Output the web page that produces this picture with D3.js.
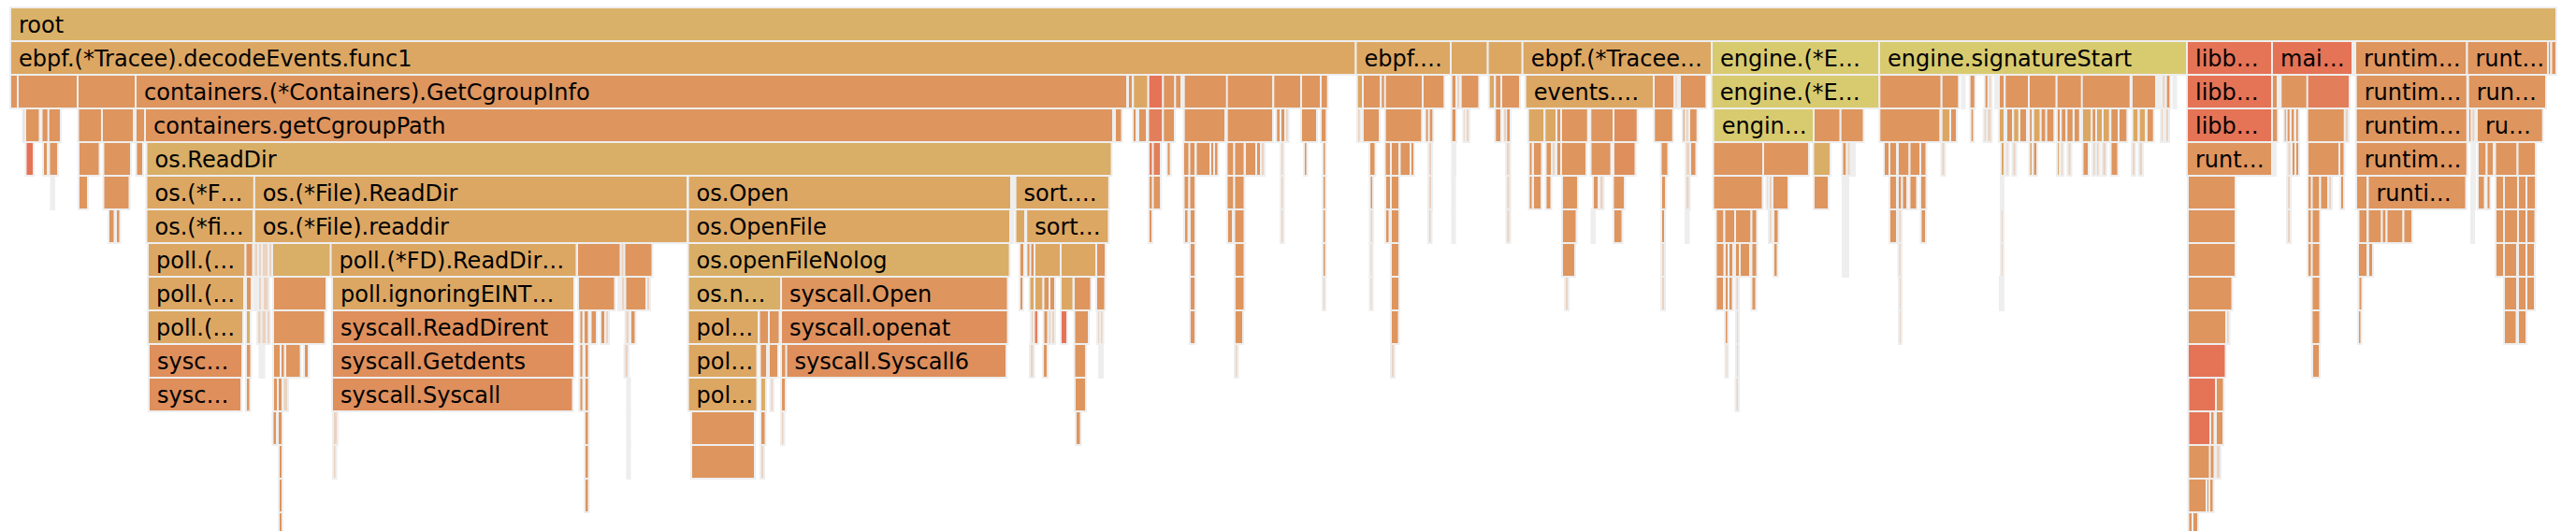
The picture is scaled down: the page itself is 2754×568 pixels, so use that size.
<!DOCTYPE html>
<html><head><meta charset="utf-8">
<script src="https://cdn.jsdelivr.net/npm/d3@7"></script>
<style>html,body{margin:0;padding:0;background:#fff;overflow:hidden}</style>
</head><body><svg id="c"></svg>
<script>
// Each frame: [firstSample, lastSample, label, tone]. Tone defaults to "o".
const totalSamples = 2722;
const depth0 = [[1,2721,"root","a"]];
const depth1 = [[1,1437.5,"ebpf.(*Tracee).decodeEvents.func1","t"],[1439.5,1539,"ebpf.…","t"],[1541,1578.6,"","t"],[1580.6,1615.7,"","t"],[1617.7,1818,"ebpf.(*Tracee…","t"],[1820,1997,"engine.(*E…","g"],[1999,2326,"engine.signatureStart","g"],[2328,2417,"libb…","r"],[2419,2503,"mai…","r"],[2505,2505.5,"","s"],[2508,2625.5,"runtim…"],[2627.5,2712,"runt…"],[2714,2715.5],[2717.5,2721]];
const depth2 = [[1,8.5],[9,72],[73,133.6],[135,1193,"containers.(*Containers).GetCgroupInfo"],[1196,1199],[1201.3,1215.7,"","t"],[1217.7,1231.7,"","r"],[1233.3,1244.7],[1246.3,1251.3],[1253,1254,"","s"],[1255.7,1300],[1301.7,1349.3],[1351.3,1379.3],[1381,1400],[1402,1407.7],[1440.7,1445.3,"","t"],[1447,1464.3],[1466.3,1469],[1470.7,1509],[1511,1532.3],[1541.7,1545.3],[1547,1549,"","p"],[1551.7,1569.4],[1581.7,1586.3,"","t"],[1588.3,1593],[1595,1613],[1620.7,1756.3,"events.…","t"],[1758,1778.3],[1780.3,1781.5,"","p"],[1784,1785,"","s"],[1786,1812.3],[1819.7,1997.5,"engine.(*E…","g"],[1999.3,2063.7],[2065.7,2082.3],[2087.5,2088.5,"","s"],[2095.7,2099.7],[2111.7,2114],[2115.7,2117.3,"","p"],[2123,2124.5,"","s"],[2127,2131.3],[2133.3,2157.3],[2159,2186.7],[2188.7,2214],[2215.7,2265.7],[2269,2293],[2297,2297.7,"","s"],[2301.3,2303.3,"","p"],[2305.7,2308.3],[2313.5,2314.5,"","s"],[2328,2417,"libb…","r"],[2419,2423.3],[2425,2425.5,"","s"],[2428.3,2455],[2456.7,2500,"","l"],[2508.7,2625.7,"runtim…"],[2628.7,2710,"run…"]];
const depth3 = [[14.4,16.7,"","p"],[17,30.5],[34.5,40.5],[41.7,53],[73.5,97.5],[99,131],[135,143],[145,1178.7,"containers.getCgroupPath"],[1180,1180.5,"","p"],[1182,1187.5],[1201,1203],[1207,1214],[1217.5,1231.5,"","l"],[1233.3,1244],[1255.7,1298],[1301.7,1349],[1354.3,1357.3],[1359,1362.3],[1364,1365.7,"","p"],[1381,1396],[1402,1406.3],[1441,1442.7,"","p"],[1447,1463],[1470.7,1508.3],[1513.7,1515.7],[1517.7,1520.3],[1541.7,1545],[1554.3,1555.7,"","p"],[1557,1559,"","p"],[1588.3,1593],[1597.7,1599],[1600.3,1603],[1623.7,1639.3,"","t"],[1641.3,1652,"","t"],[1654,1657.3],[1659,1685.7],[1690.3,1713.3],[1715,1738.7,"","d"],[1758.3,1776.7],[1788.7,1790.3],[1791.7,1793.7,"","p"],[1796,1802.7],[1821.7,1927,"engin…","g"],[1929,1955.7],[1957.7,1980.5],[1999.3,2062.3],[2065.7,2073,"","t"],[2075,2080],[2096.7,2098.3],[2110.7,2112.3,"","p"],[2114.3,2117.3,"","p"],[2127,2131,"","t"],[2135,2140],[2142.3,2146.7,"","t"],[2149,2155],[2159.3,2161],[2163.7,2169.7,"","t"],[2171.7,2175.7],[2177.7,2184.3],[2189,2191],[2193.3,2197.3],[2199.3,2204.7],[2207,2211.7],[2216,2224.3,"","t"],[2226.3,2229],[2231,2236,"","t"],[2238,2243.7,"","t"],[2246.3,2253],[2255,2262.3],[2269.7,2274.3,"","t"],[2276.7,2282,"","t"],[2285,2290.7],[2300,2301,"","p"],[2305,2307,"","p"],[2328,2417,"libb…","r"],[2419,2423.3],[2431.7,2433.3],[2434.7,2436.7],[2439,2441.3],[2444,2445.7],[2456.7,2495],[2496.7,2499,"","p"],[2508.7,2625.7,"runtim…"],[2629,2630.7],[2632.3,2634.3,"","p"],[2638,2706.7,"ru…"]];
const depth4 = [[17.5,24,"","r"],[36,39],[42.5,50],[74,94.5],[100.5,128],[135.5,141],[146.5,1176.5,"os.ReadDir","y"],[1218,1221,"","l"],[1222.5,1229,"","l"],[1237.5,1239.5],[1255,1260],[1261.5,1266],[1268.5,1282.5],[1284,1286.5],[1288,1290.5],[1301.5,1307.5],[1309.5,1318.5],[1321,1331.5],[1333,1336.5],[1338,1340,"","p"],[1359,1360.5,"","p"],[1384,1385.5],[1404,1405.5],[1454,1458.5],[1470.5,1475],[1477,1484],[1486.5,1496],[1498,1500],[1517,1519,"","p"],[1542.5,1544,"","s"],[1600,1602.5,"","p"],[1624.5,1626.5],[1629,1636.5],[1642.5,1647.5],[1649,1651,"","p"],[1654,1657],[1659,1684],[1690.5,1710.5],[1715,1736.5,"","d"],[1765.5,1771.5],[1792,1795,"","p"],[1797,1801.5],[1821.5,1873.5],[1875,1922],[1928.5,1945,"","y"],[1959.5,1962.5],[1964.5,1966.5,"","p"],[1969,1971,"","s"],[2004,2008.5],[2010,2016],[2019,2029.5],[2031.5,2041],[2043,2047.5],[2065.5,2067.5,"","p"],[2129,2131,"","t"],[2134.5,2135.5,"","p"],[2141.5,2143.5,"","p"],[2159.5,2161,"","t"],[2163.5,2166],[2189,2190,"","t"],[2193,2194,"","p"],[2200.5,2202.5,"","p"],[2216.5,2221],[2227,2228.5,"","p"],[2231,2232.5,"","p"],[2237.5,2240,"","p"],[2246.5,2252.5],[2269,2271,"","p"],[2276.5,2279,"","p"],[2328,2417,"runt…"],[2419,2421,"","s"],[2435.5,2437.5,"","p"],[2440,2442],[2444,2446],[2457,2489],[2491,2494.5],[2508.7,2625.7,"runtim…"],[2632.5,2634,"","s"],[2639,2646.5],[2648.5,2654],[2657.5,2679.5],[2681.5,2699]];
const depth5 = [[44.5,46,"","s"],[74,82],[100.5,126.5],[146.5,260,"os.(*F…","t"],[261.8,723,"os.(*File).ReadDir","t"],[725.6,1069,"os.Open","t"],[1071.5,1072,"","s"],[1075.6,1173.8,"sort.…","t"],[1218,1221],[1222.5,1229],[1255.5,1259.5],[1261.5,1266],[1301.5,1307.5],[1309.5,1318.5],[1359,1360.5,"","p"],[1404,1405.5],[1454.5,1456],[1471,1475],[1477,1484],[1517,1519,"","p"],[1542.5,1543.5,"","s"],[1600.5,1602.5,"","p"],[1624.5,1626.5],[1629,1636],[1642.5,1646.5],[1660,1675],[1693,1697],[1700,1702.5,"","p"],[1714.5,1725],[1766,1769],[1792,1794.5,"","p"],[1821.5,1872.5],[1878.5,1879.5,"","p"],[1881,1883,"","p"],[1885,1900],[1929,1943],[1960,1961,"","s"],[1963,1964,"","s"],[2010,2016],[2019,2021.5],[2023.5,2027],[2031.5,2037.5],[2043,2047.5],[2129,2130,"","s"],[2329,2378],[2435,2437,"","p"],[2457,2460],[2461.5,2468.5],[2470.5,2478.5],[2479,2481,"","p"],[2492,2494],[2509,2519],[2521.5,2624.5,"runti…"],[2632,2634,"","s"],[2639,2644.5],[2648.5,2650.5],[2658,2665],[2667,2680],[2682,2689],[2691,2699]];
const depth6 = [[106,110.5],[114,116.5],[146.5,259,"os.(*fi…","t"],[261.8,723,"os.(*File).readdir","t"],[725.6,1068,"os.OpenFile","t"],[1070.5,1071,"","s"],[1075.6,1084,"","t"],[1087.2,1173.4,"sort…","t"],[1218,1220],[1256,1258.5],[1262,1266],[1302,1306],[1309.5,1318.5],[1359,1360.5,"","p"],[1404,1405.5],[1454.5,1456,"","p"],[1471,1473.5],[1477,1484],[1517,1518.5,"","p"],[1542.5,1543.5,"","s"],[1600.5,1602.5,"","p"],[1660,1673.5],[1691.5,1693,"","s"],[1715,1722.5],[1766,1768],[1792,1793.5,"","s"],[1824.5,1831.5],[1833.5,1843],[1845,1860.5],[1862.5,1866.5],[1881,1882.5,"","p"],[1886,1889.5],[1960,1961,"","s"],[1963,1964,"","s"],[2010,2016],[2019.5,2021,"","p"],[2043.5,2047],[2129,2130,"","p"],[2329,2378],[2435,2437,"","p"],[2457,2460],[2461.5,2468.5],[2511.5,2519],[2521.5,2534.5],[2536.5,2539.5],[2541.5,2557.5],[2559.5,2567],[2632,2633,"","s"],[2658,2665],[2667,2680],[2682,2689],[2691,2698.5]];
const depth7 = [[148,250.5,"poll.(…","t"],[252.5,258.5],[261.5,264,"","p"],[266,268,"","p"],[270,275,"","p"],[277,279,"","p"],[281,342,"","y"],[343.5,604.5,"poll.(*FD).ReadDir…","t"],[607,652],[653.5,656.5,"","p"],[657.5,685.5],[725.5,1067.5,"os.openFileNolog","y"],[1080,1083],[1087.5,1090],[1091.5,1094],[1096,1122,"","t"],[1124,1160.5,"","t"],[1162,1170],[1262,1266],[1310,1318.5],[1404,1405.5],[1454.5,1455.5,"","p"],[1477,1484],[1660,1672],[1766,1768,"","p"],[1824.5,1831.5],[1834,1836.5],[1838,1841],[1845,1848.5],[1850,1859],[1862.5,1866.5],[1886,1888.5],[1960,1961,"","s"],[1963,1964,"","s"],[2019.5,2021,"","p"],[2129,2130,"","p"],[2329,2378],[2457,2460],[2461.5,2468.5],[2511,2519],[2522,2525],[2658,2665],[2667,2679],[2682,2689],[2691,2698]];
const depth8 = [[148,249,"poll.(…","t"],[253,257],[261.5,264,"","s"],[266,268,"","p"],[271,275.5,"","p"],[282,337],[345,602,"poll.ignoringEINT…","t"],[608,645.5],[651,651.5,"","s"],[654,656.5,"","p"],[658.5,679],[681,683,"","p"],[725.6,823,"os.n…","y"],[825,1065.5,"syscall.Open"],[1080,1082],[1090.5,1094,"","t"],[1096,1103.5,"","t"],[1105.5,1111],[1112,1116],[1124,1135.5,"","t"],[1138,1154.5],[1162,1169.5],[1262,1266],[1310,1318.5],[1404,1405,"","p"],[1454.5,1455.5,"","p"],[1477,1484],[1663,1665,"","p"],[1766,1768,"","p"],[1824.5,1831],[1834,1836],[1838,1840.5],[1845.5,1847,"","p"],[1862.5,1865.5],[2020,2021,"","p"],[2128,2130,"","s"],[2329,2374.5],[2461.5,2468.5],[2511.5,2513.5],[2667,2679],[2682,2689],[2691,2698]];
const depth9 = [[148,248,"poll.(…","t"],[253,256,"","y"],[265,268,"","p"],[269.5,274,"","p"],[275,277,"","p"],[282,335.5],[345,602,"syscall.ReadDirent","d"],[609.5,611.5],[614,617.5],[621.5,626],[632,636.5],[637,639,"","p"],[658.5,661,"","p"],[664,667.5],[725.6,799,"pol…","t"],[801.5,810.5],[812,821.5],[825,1065.5,"syscall.openat","d"],[1092,1093.5,"","p"],[1095.5,1098,"","l"],[1105.5,1109],[1110.5,1112.5,"","p"],[1114,1116,"","p"],[1124,1129,"","r"],[1138.5,1152],[1163,1165,"","p"],[1166,1167.5,"","p"],[1262,1266],[1310,1317],[1477,1483.5],[1834,1835.5],[1846,1847,"","p"],[2020,2021,"","p"],[2329,2368],[2370,2371.5,"","p"],[2461.5,2468.5],[2511,2512.5],[2667,2678.5],[2682,2689]];
const depth10 = [[149,247,"sysc…","d"],[253,256.5],[267.5,270.5,"","s"],[282,288],[290,292.5],[295,309.5],[315,318],[345,602,"syscall.Getdents","d"],[609.5,611.5],[615,617.5],[657.5,660,"","p"],[725.6,797.5,"pol…","t"],[802.5,808],[812,820],[825,829],[830.5,1064,"syscall.Syscall6","d"],[1091,1093.5,"","p"],[1105,1108],[1138.5,1149],[1165,1167,"","s"],[1310,1311.5,"","p"],[1477,1479,"","p"],[1834.5,1835.5,"","p"],[1846,1847,"","p"],[2329,2367.5,"","r"],[2462,2468]];
const depth11 = [[149,246,"sysc…","d"],[253,255.5],[282,285],[287,290],[292.5,296,"","p"],[345,600.5,"syscall.Syscall","d"],[609.5,611.5],[615,617.5],[660.5,661.5,"","s"],[725.6,797.5,"pol…","t"],[803,807,"","y"],[813.5,815,"","p"],[825,828],[1139,1149],[1845.5,1847,"","p"],[2329.5,2357,"","r"],[2359,2365.5]];
const depth12 = [[281.5,284],[287,290],[346,349,"","p"],[615,617.5],[660.5,661.5,"","s"],[729,795],[803,806.5],[825,826.5,"","p"],[1140,1143.5],[2329.5,2351,"","r"],[2353,2355.5],[2359,2365]];
const depth13 = [[288,290],[346,347.5,"","p"],[615,617.5],[660.5,661.5,"","s"],[729,795],[803,805,"","p"],[2329.5,2351],[2352.5,2355.5],[2359,2362,"","p"]];
const depth14 = [[288,290],[615,617.5],[2329.5,2347.5],[2349,2351],[2352,2354.5]];
const depth15 = [[288,290],[2329.5,2332],[2334,2338]];
const depths = [depth0,depth1,depth2,depth3,depth4,depth5,depth6,depth7,depth8,depth9,depth10,depth11,depth12,depth13,depth14,depth15];
const toneKeys = ["a","t","y","g","o","d","l","r","p","s"];
const toneColors = ["#d9b168","#dca763","#d9ae66","#d8ca6f","#de955e","#de8f5c","#e27f5a","#e57356","#ebd3c0","#eeeeee"];

const W = 2754, H = 568;
const x = d3.scaleLinear().domain([0,totalSamples]).range([11,2733]);
const y = d3.scaleLinear().domain([0,1]).range([8,44]);
const tone = d3.scaleOrdinal(toneKeys,toneColors);
const svg = d3.select("#c").attr("width",W).attr("height",H).style("display","block");
const frames = depths.flatMap((row,depth)=>row.map(([s,e,name,t])=>({s,e,name:name||"",t:t||"o",depth})));
const g = svg.selectAll("g.frame").data(frames).join("g").attr("class","frame");
g.append("rect")
  .attr("x",d=>x(d.s)-1)
  .attr("y",d=>y(d.depth))
  .attr("width",d=>x(d.e)-x(d.s)+2)
  .attr("height",y(1)-y(0))
  .attr("fill",d=>tone(d.t))
  .attr("stroke","#eeeeee")
  .attr("stroke-width",2);
g.filter(d=>d.name).append("text")
  .attr("x",d=>x(d.s)+8)
  .attr("y",d=>y(d.depth)+27)
  .attr("font-family","'DejaVu Sans',Verdana,sans-serif")
  .attr("font-size",24)
  .attr("fill","#000")
  .text(d=>d.name);
</script></body></html>
